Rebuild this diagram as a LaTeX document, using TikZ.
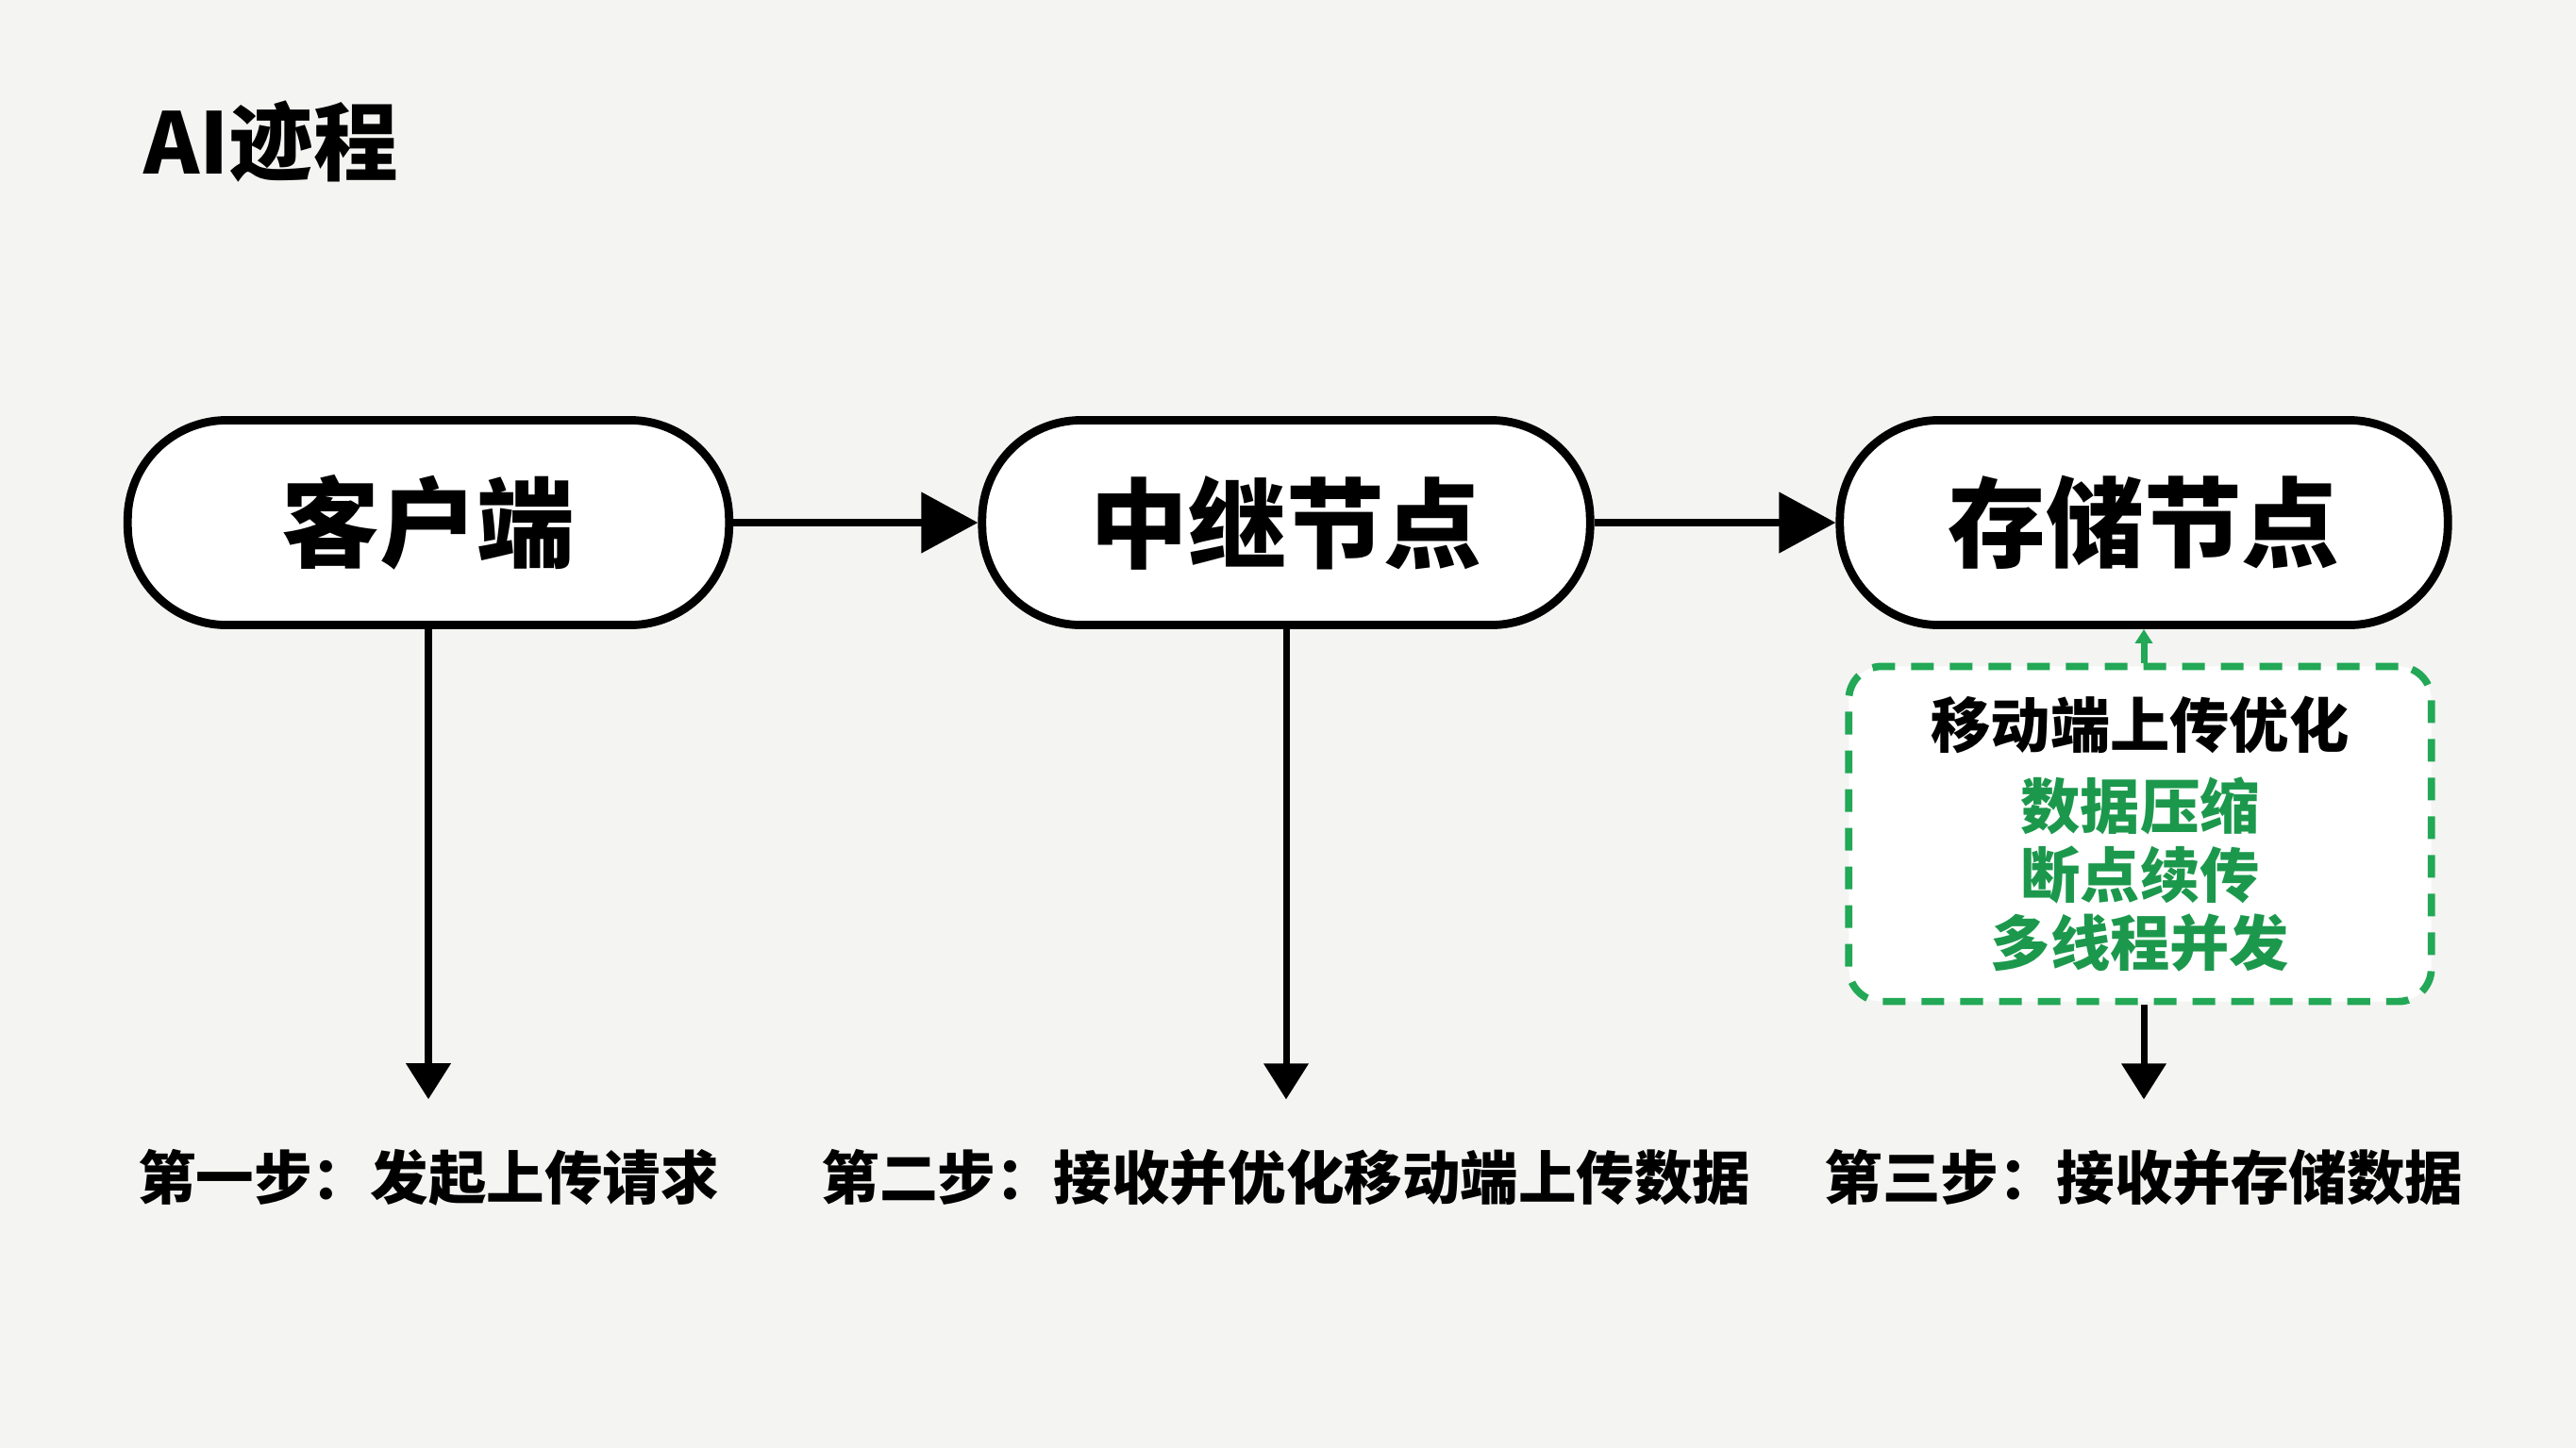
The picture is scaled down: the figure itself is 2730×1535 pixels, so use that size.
\documentclass[tikz,border=0pt]{standalone}
\usepackage{fontspec}
\setmainfont{Noto Sans CJK SC}
\usetikzlibrary{arrows.meta}
\definecolor{bgcol}{RGB}{244,244,243}
\definecolor{optgreen}{RGB}{34,168,86}
\definecolor{opttext}{RGB}{28,152,76}
\begin{document}
\begin{tikzpicture}[x=0.01cm,y=-0.01cm,
  stage/.style={draw,line width=2.5pt,fill=white,rounded corners=1.05cm,minimum width=6.37cm,minimum height=2.17cm,font=\fontsize{29.5}{35}\selectfont\bfseries},
  optbox/.style={draw=optgreen,line width=2.2pt,dash pattern=on 0.24cm off 0.17cm,fill=white,rounded corners=0.35cm,minimum width=6.17cm,minimum height=3.55cm,align=center,font=\fontsize{18}{20.5}\selectfont\bfseries},
  steplabel/.style={inner sep=0pt,font=\fontsize{17.5}{21}\selectfont\bfseries},
  flow/.style={line width=2pt,-{Triangle[length=0.38cm,width=0.46cm]}},
  bigflow/.style={line width=2.2pt,-{Triangle[length=0.6cm,width=0.63cm]}}]
\fill[bgcol] (0,0) rectangle (2730,1535);
\node[anchor=west,font=\fontsize{25.5}{30}\selectfont\bfseries] (title) at (140,150) {AI迹程};
\node[stage] (Cl) at (454,554) {客户端};
\node[stage,minimum width=6.44cm] (Re) at (1363,554) {中继节点};
\node[stage,minimum width=6.44cm] (St) at (2272,554) {存储节点};
\node[optbox] (Opt) at (2268,884) {移动端上传优化\\[4pt]\textcolor{opttext}{数据压缩}\\\textcolor{opttext}{断点续传}\\\textcolor{opttext}{多线程并发}};
\node[steplabel] (Sone) at (454,1248) {第一步：发起上传请求};
\node[steplabel] (Stwo) at (1363,1248) {第二步：接收并优化移动端上传数据};
\node[steplabel] (Sthree) at (2272,1248) {第三步：接收并存储数据};
\draw[bigflow] (Cl)--(Re);
\draw[bigflow] (Re)--(St);
\draw[flow,shorten >=0.52cm] (Cl)--(Sone);
\draw[flow,shorten >=0.52cm] (Re)--(Stwo);
\draw[flow,shorten >=0.52cm] (Opt.south-|Sthree)--(Sthree);
\draw[optgreen,line width=2pt,-{Triangle[length=0.15cm,width=0.18cm]}] (Opt.north-|St)--(St);
\end{tikzpicture}
\end{document}
